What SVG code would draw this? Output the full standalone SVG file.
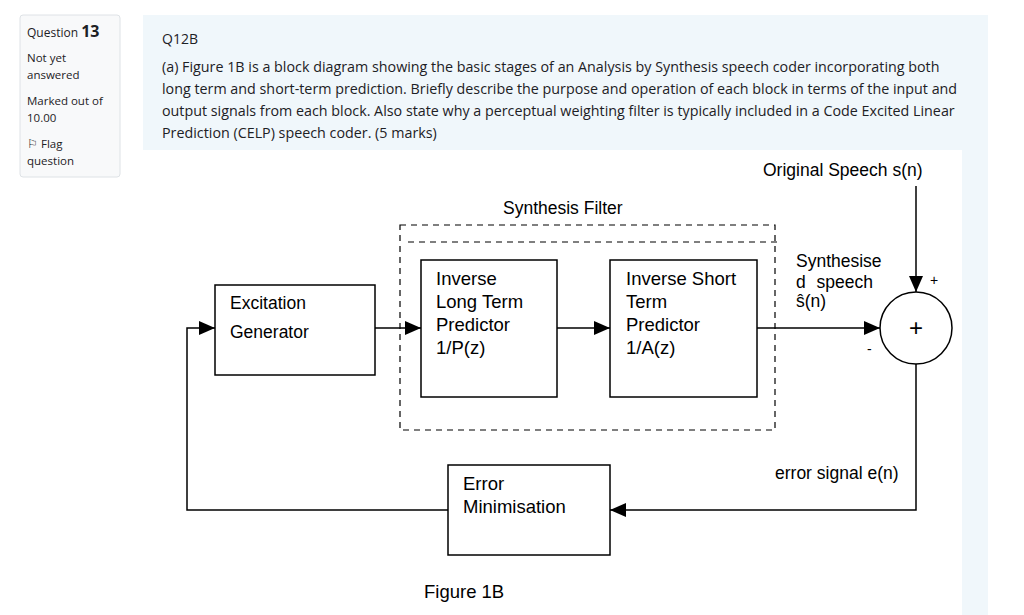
<svg xmlns="http://www.w3.org/2000/svg" width="1024" height="615" viewBox="0 0 1024 615">
<defs>
<marker id="ah" markerWidth="16" markerHeight="14" refX="16" refY="7" orient="auto" markerUnits="userSpaceOnUse"><path d="M0,0 L16,7 L0,14 Z" fill="#000"/></marker>
<style>
.ui{font-family:"Open Sans","Liberation Sans",sans-serif;fill:#1d2125}
.d{font-family:"Liberation Sans",Arial,sans-serif;fill:#000;font-size:17.5px}
.b{fill:#fff;stroke:#000;stroke-width:1.5}
.l{fill:none;stroke:#000;stroke-width:1.5}
.dash{fill:none;stroke:#000;stroke-width:1.2;stroke-dasharray:6,5}
</style>
</defs>
<rect width="1024" height="615" fill="#fff"/>
<rect x="20" y="15" width="100" height="162" rx="3" fill="#f8f9fa" stroke="#dee2e6"/>
<text class="ui" x="27" y="37" font-size="12">Question <tspan font-size="16" font-weight="bold">13</tspan></text>
<text class="ui" x="27" y="62" font-size="11.5">Not yet</text>
<text class="ui" x="27" y="79" font-size="11.5">answered</text>
<text class="ui" x="27" y="105" font-size="11.5">Marked out of</text>
<text class="ui" x="27" y="122" font-size="11.5">10.00</text>
<text class="ui" x="27" y="148" font-size="11.5">⚐ Flag</text>
<text class="ui" x="27" y="165" font-size="11.5">question</text>
<rect x="143" y="15" width="845" height="600" fill="#f0f7fb"/>
<text class="ui" x="162" y="44" font-size="14">Q12B</text>
<g class="ui" font-size="14.3">
<text x="162" y="72">(a) Figure 1B is a block diagram showing the basic stages of an Analysis by Synthesis speech coder incorporating both</text>
<text x="162" y="94">long term and short-term prediction. Briefly describe the purpose and operation of each block in terms of the input and</text>
<text x="162" y="116">output signals from each block. Also state why a perceptual weighting filter is typically included in a Code Excited Linear</text>
<text x="162" y="138">Prediction (CELP) speech coder. (5 marks)</text>
</g>
<rect x="143" y="150" width="819" height="465" fill="#fff"/>
<text class="d" x="763" y="176">Original Speech s(n)</text>
<text class="d" x="503" y="214">Synthesis Filter</text>
<g id="synthbox">
<path class="dash" d="M400,225 H775 V430 H400 Z"/>
<path class="dash" d="M408,242 H780"/>
</g>
<g id="excitation"><rect class="b" x="215" y="285" width="160" height="90"/>
<text class="d" x="230" y="309">Excitation</text><text class="d" x="230" y="338">Generator</text></g>
<g id="ltp"><rect class="b" x="421" y="260" width="136" height="137"/>
<text class="d" x="436" y="285" style="font-size:18.5px">Inverse</text><text class="d" x="436" y="308" style="font-size:18.5px">Long Term</text><text class="d" x="436" y="331" style="font-size:18.5px">Predictor</text><text class="d" x="436" y="354" style="font-size:18.5px">1/P(z)</text></g>
<g id="stp"><rect class="b" x="610" y="260" width="147" height="137"/>
<text class="d" x="626" y="285" style="font-size:18.5px">Inverse Short</text><text class="d" x="626" y="308" style="font-size:18.5px">Term</text><text class="d" x="626" y="331" style="font-size:18.5px">Predictor</text><text class="d" x="626" y="354" style="font-size:18.5px">1/A(z)</text></g>
<g id="sum"><circle class="b" cx="916" cy="328" r="36"/>
<text class="d" x="916" y="336" text-anchor="middle" style="font-size:24px">+</text></g>
<g id="error"><rect class="b" x="448" y="465" width="162" height="90"/>
<text class="d" x="463" y="490" style="font-size:18.5px">Error</text><text class="d" x="463" y="513" style="font-size:18.5px">Minimisation</text></g>
<text class="d" x="796" y="267">Synthesise</text>
<text class="d" x="796" y="288" style="word-spacing:6px">d speech</text>
<text class="d" x="796" y="307">ŝ(n)</text>
<text class="d" x="930" y="285" style="font-size:14px">+</text>
<text class="d" x="867" y="354" style="font-size:14px">-</text>
<text class="d" x="775" y="479">error signal e(n)</text>
<text class="d" x="424" y="598" style="font-size:18.5px">Figure 1B</text>
<g id="connectors">
<path class="l" d="M916,186 V292" marker-end="url(#ah)"/>
<path class="l" d="M757,328 H880" marker-end="url(#ah)"/>
<path class="l" d="M557,328 H610" marker-end="url(#ah)"/>
<path class="l" d="M375,328 H421" marker-end="url(#ah)"/>
<path class="l" d="M916,364 V510 H610" marker-end="url(#ah)"/>
<path class="l" d="M448,510 H187 V328 H215" marker-end="url(#ah)"/>
</g>
</svg>
